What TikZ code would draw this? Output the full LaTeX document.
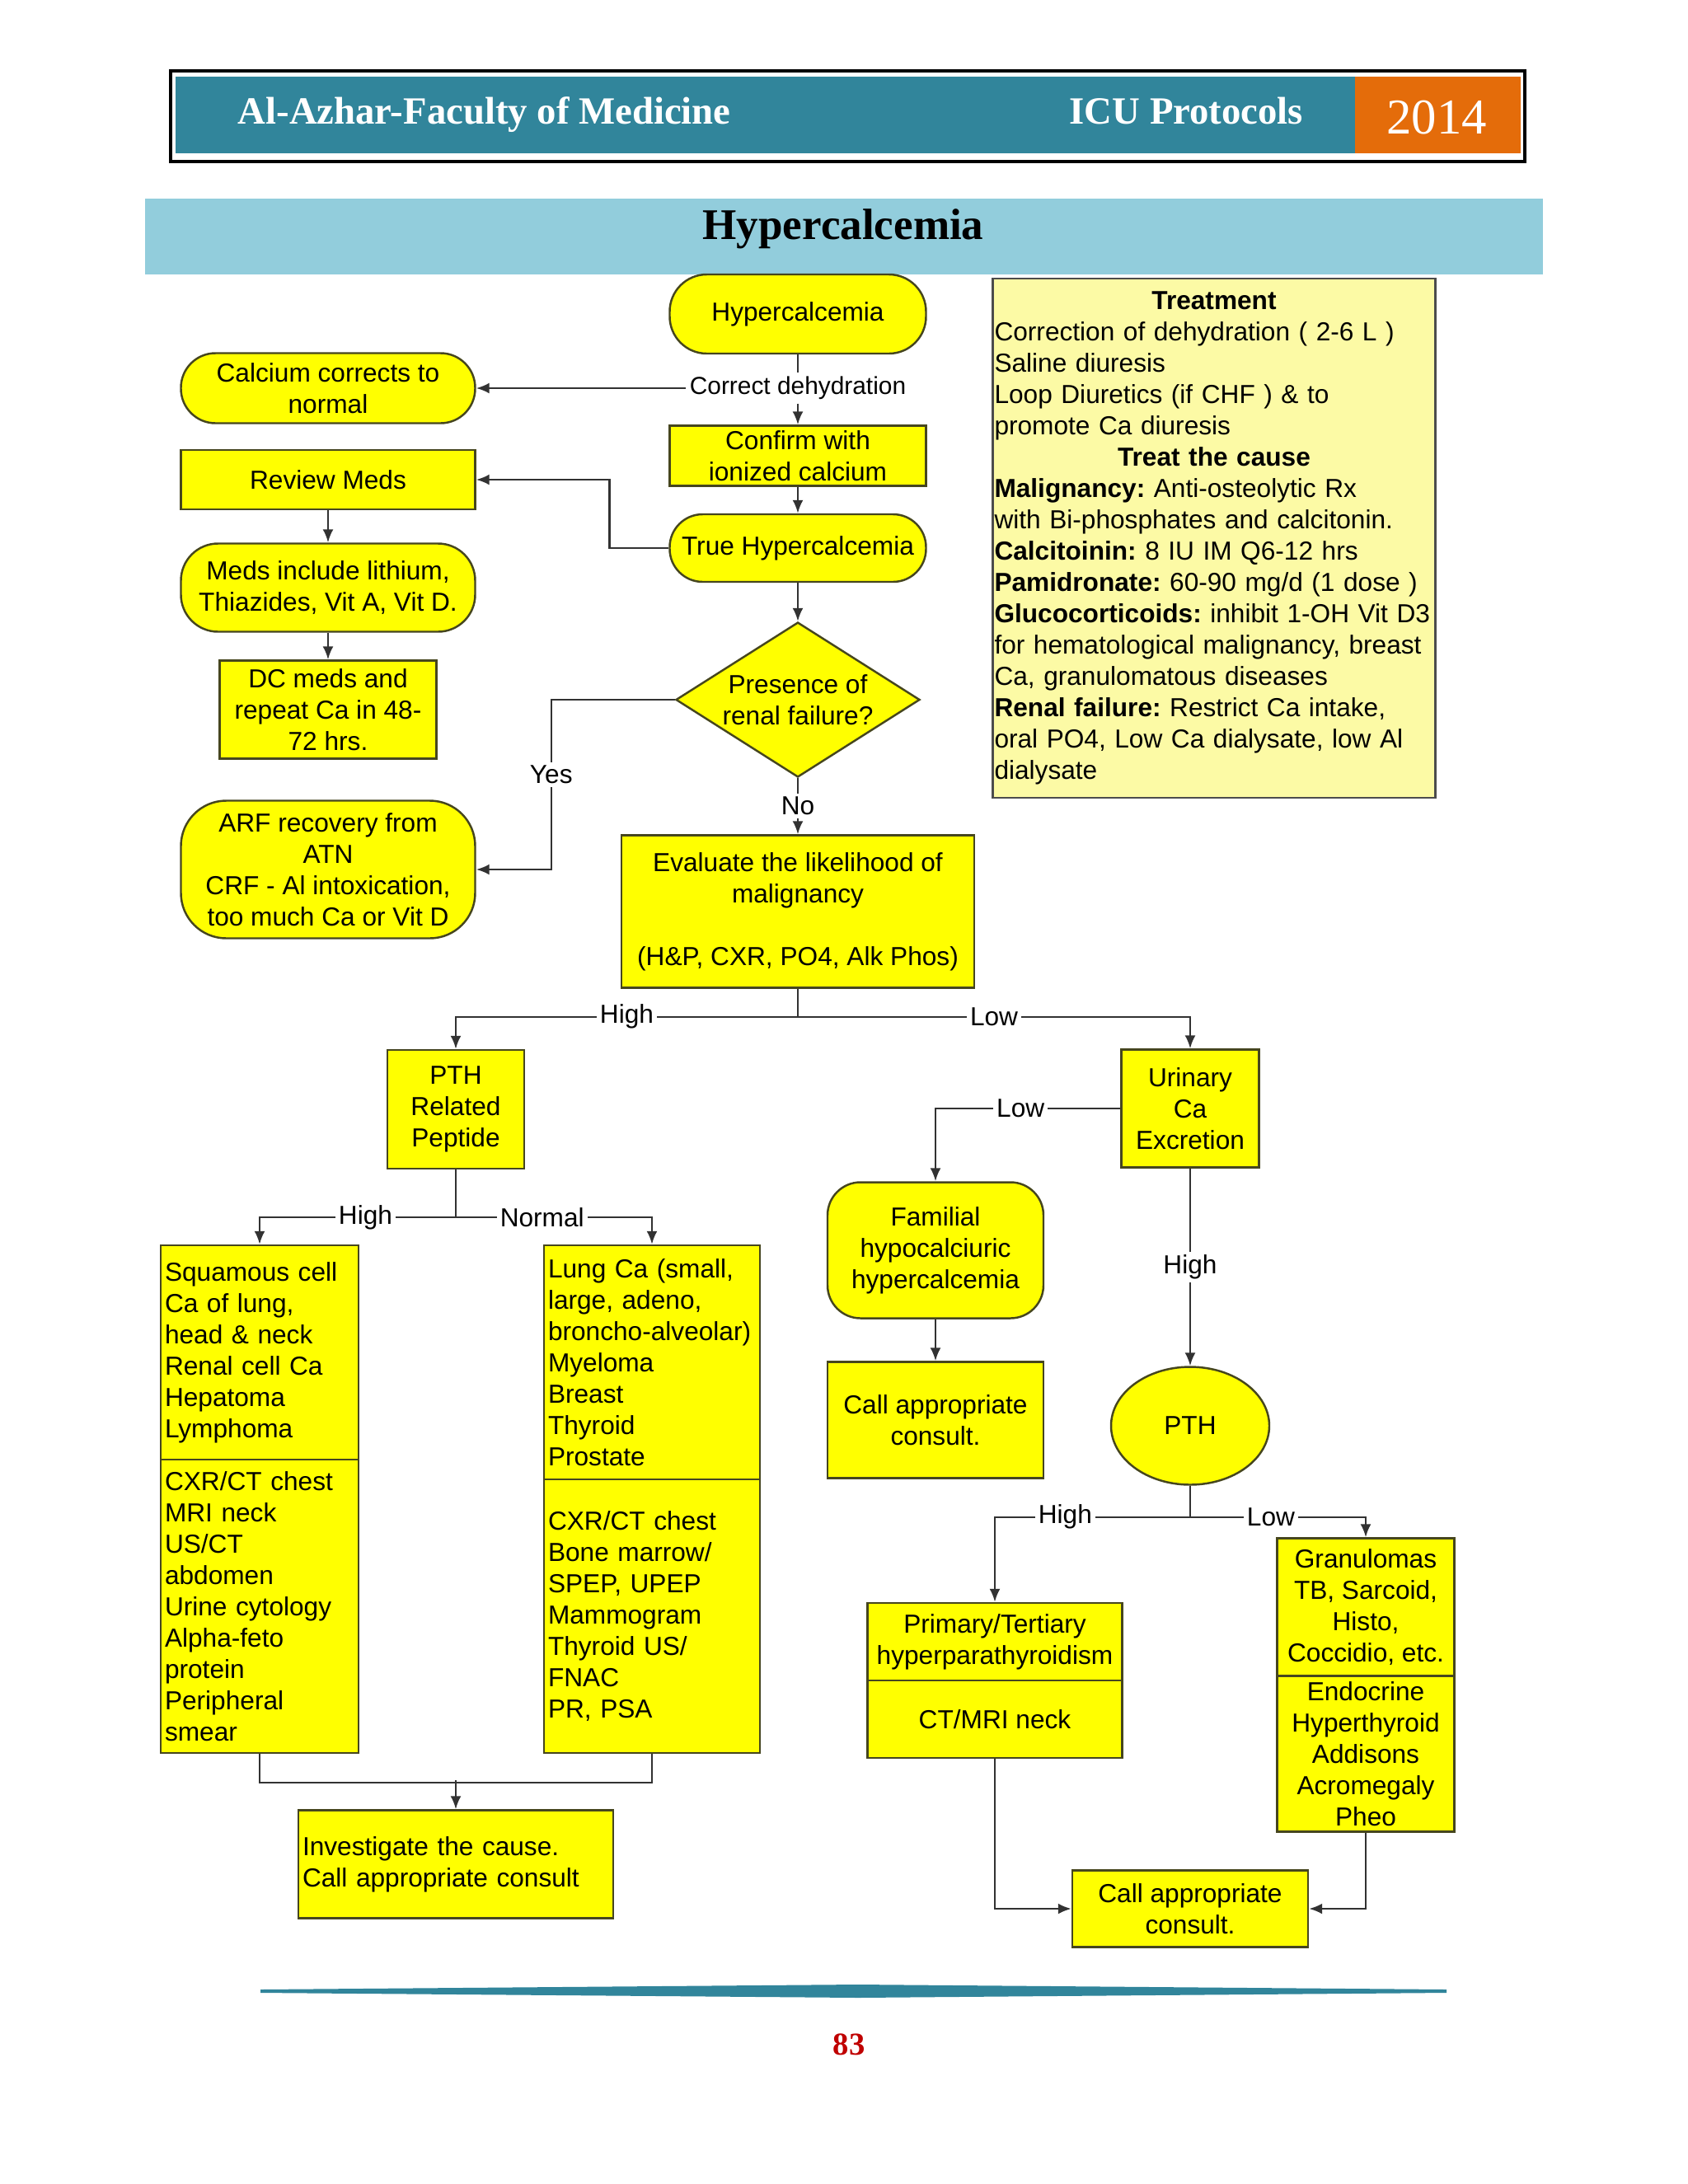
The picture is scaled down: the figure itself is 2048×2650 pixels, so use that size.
\documentclass[tikz,border=0pt]{standalone}
\usepackage{fontspec}
\setmainfont{Liberation Sans}
\newfontfamily\headfont{Liberation Serif}
\usetikzlibrary{arrows.meta,shapes.geometric}
\definecolor{boxyellow}{RGB}{255,255,0}
\definecolor{boxline}{RGB}{70,70,30}
\definecolor{noteyellow}{RGB}{252,250,165}
\definecolor{headteal}{RGB}{49,133,155}
\definecolor{headorange}{RGB}{228,108,10}
\definecolor{bandblue}{RGB}{146,205,220}
\definecolor{pagered}{RGB}{192,0,0}
\definecolor{wirecol}{RGB}{50,50,50}
\frenchspacing
\tikzset{ %font = 9pt Arial metrics
  >={Latex[length=1.6mm,width=1.3mm]},
  {box/.style}={draw=boxline, fill=boxyellow, line width=0.7pt,
                inner sep=0.5mm, align=center,
                font=\fontsize{9}{10.8}\selectfont},
  {round box/.style}={box, rounded corners=#1},
  round box/.default=4mm,
  {list box/.style}={box, align=left, text width=#1},
  {line text/.style}={fill=white, inner sep=0.4mm,
                font=\fontsize{9}{10.8}\selectfont},
  {wire/.style}={draw=wirecol, line width=0.7pt},
}
\begin{document}
\frenchspacing
\begin{tikzpicture}[x=0.1mm,y=-0.1mm]
\useasboundingbox (0,0) rectangle (2048,2650);
\fill[white] (0,0) rectangle (2048,2650);
% page header
\fill[headteal] (213,93) rectangle (1644,186);
\fill[headorange] (1644,93) rectangle (1845,186);
\draw[line width=0.9pt] (207,86) rectangle (1850,196);
\node[text=white, inner sep=0, anchor=base west,
      font=\headfont\fontsize{13.3}{16}\selectfont\bfseries] (school) at (288,150) {Al-Azhar-Faculty of Medicine};
\node[text=white, inner sep=0, anchor=base west,
      font=\headfont\fontsize{13.3}{16}\selectfont\bfseries] (book) at (1297,150) {ICU Protocols};
\node[text=white, inner sep=0, anchor=base,
      font=\headfont\fontsize{17.3}{20}\selectfont] (year) at (1743,162) {2014};
\fill[bandblue] (176,241) rectangle (1872,333);
\node[inner sep=0, anchor=base,
      font=\headfont\fontsize{15.1}{18}\selectfont\bfseries] (title) at (1023,290) {Hypercalcemia};
% main column
\node[round box=4.5mm, minimum width=31.1mm, minimum height=9.6mm] (hyper) at (968,381) {Hypercalcemia};
\node[line text, font=\fontsize{8.5}{10.2}\selectfont] (cordehyd) at (968,471) {Correct dehydration};
\node[box, minimum width=31.1mm, minimum height=7.3mm] (confirm) at (968,553) {Confirm with\\ionized calcium};
\node[round box=4mm, minimum width=31.1mm, minimum height=8.2mm] (truehyp) at (968,665) {True Hypercalcemia};
\node[box, diamond, aspect=1.57, inner sep=0, minimum width=29.6mm, minimum height=18.8mm] (renal) at (968,849) {Presence of\\renal failure?};
\node[box, minimum width=42.8mm, minimum height=18.5mm] (eval) at (968,1106) {Evaluate the likelihood of\\malignancy\\[3.8mm](H\&P, CXR, PO4, Alk Phos)};
% left column
\node[round box=4.2mm, minimum width=35.7mm, minimum height=8.5mm] (calcorr) at (398,471) {Calcium corrects to\\normal};
\node[box, minimum width=35.7mm, minimum height=7.2mm] (review) at (398,582) {Review Meds};
\node[round box=4.5mm, minimum width=35.7mm, minimum height=10.7mm] (medsinc) at (398,713) {Meds include lithium,\\Thiazides, Vit A, Vit D.};
\node[box, minimum width=26.3mm, minimum height=11.9mm] (dcmeds) at (398,861) {DC meds and\\repeat Ca in 48-\\72 hrs.};
\node[round box=5.5mm, minimum width=35.7mm, minimum height=16.7mm] (arf) at (398,1055) {ARF recovery from\\ATN\\CRF - Al intoxication,\\too much Ca or Vit D};
% treatment note
\node[box, fill=noteyellow, draw=black!70, align=left, text width=53.3mm,
      inner xsep=0.2mm, minimum height=63mm] (treat) at (1473,653) {%
\makebox[53.3mm]{\bfseries Treatment}\\
Correction of dehydration ( 2-6 L )\\
Saline diuresis\\
Loop Diuretics (if CHF ) \& to\\
promote Ca diuresis\\
\makebox[53.3mm]{\bfseries Treat the cause}\\
\textbf{Malignancy:} Anti-osteolytic Rx\\
with Bi-phosphates and calcitonin.\\
\textbf{Calcitoinin:} 8 IU IM Q6-12 hrs\\
\textbf{Pamidronate:} 60-90 mg/d (1 dose )\\
\mbox{\textbf{Glucocorticoids:} inhibit 1-OH Vit D3}\\
for hematological malignancy, breast\\
Ca, granulomatous diseases\\
\textbf{Renal failure:} Restrict Ca intake,\\
oral PO4, Low Ca dialysate, low Al\\
dialysate};
% malignancy high
\node[box, minimum width=16.6mm, minimum height=14.4mm] (pthrp) at (553,1346) {PTH\\Related\\Peptide};
\node[list box=23mm, minimum height=26mm] (sqtop) at (315,1641) {Squamous cell\\Ca of lung,\\head \& neck\\Renal cell Ca\\Hepatoma\\Lymphoma};
\node[list box=23mm, minimum height=35.6mm] (sqbot) at (315,1949) {CXR/CT chest\\MRI neck\\US/CT\\abdomen\\Urine cytology\\Alpha-feto\\protein\\Peripheral\\smear};
\node[list box=25.2mm, minimum height=28.4mm] (lungtop) at (791,1653) {Lung Ca (small,\\large, adeno,\\broncho-alveolar)\\Myeloma\\Breast\\Thyroid\\Prostate};
\node[list box=25.2mm, minimum height=33.2mm] (lungbot) at (791,1961) {CXR/CT chest\\Bone marrow/\\SPEP, UPEP\\Mammogram\\Thyroid US/\\FNAC\\PR, PSA};
\node[list box=37.2mm, minimum height=13.1mm] (inv) at (553,2262) {Investigate the cause.\\Call appropriate consult};
% malignancy low
\node[box, minimum width=16.7mm, minimum height=14.3mm] (urin) at (1444,1345) {Urinary\\Ca\\Excretion};
\node[round box=4mm, minimum width=26.2mm, minimum height=16.5mm] (fam) at (1135,1517) {Familial\\hypocalciuric\\hypercalcemia};
\node[box, minimum width=26.2mm, minimum height=14.1mm] (call1) at (1135,1723) {Call appropriate\\consult.};
\node[box, ellipse, minimum width=19.2mm, minimum height=14.3mm] (pth) at (1444,1730) {PTH};
\node[box, minimum width=30.9mm, minimum height=9.4mm] (primtop) at (1207,1992) {Primary/Tertiary\\hyperparathyroidism};
\node[box, minimum width=30.9mm, minimum height=9.4mm] (primbot) at (1207,2086) {CT/MRI neck};
\node[box, minimum width=21.5mm, minimum height=16.7mm] (grantop) at (1657,1950) {Granulomas\\TB, Sarcoid,\\Histo,\\Coccidio, etc.};
\node[box, minimum width=21.5mm, minimum height=18.9mm] (granbot) at (1657,2128) {Endocrine\\Hyperthyroid\\Addisons\\Acromegaly\\Pheo};
\node[box, minimum width=28.6mm, minimum height=9.3mm] (call2) at (1444,2316) {Call appropriate\\consult.};
% connectors
\draw[wire] (hyper) -- (cordehyd);
\draw[wire,->] (cordehyd) -- (confirm);
\draw[wire,->] (cordehyd.west) -- (calcorr.east);
\draw[wire,->] (confirm) -- (truehyp);
\draw[wire,->] (truehyp.west) -- ++(-72,0) |- (review.east);
\draw[wire,->] (review) -- (medsinc);
\draw[wire,->] (medsinc) -- (dcmeds);
\draw[wire,->] (truehyp) -- (renal);
\draw[wire,->] (renal.west) -- ++(-150,0) |- node[line text,pos=.22] {Yes} (arf.east);
\draw[wire,->] (renal) -- node[line text] {No} (eval);
\draw[wire] (eval.south) -- ++(0,34) coordinate (evalfork);
\draw[wire,->] (evalfork) -| node[line text,pos=.25] {High} (pthrp.north);
\draw[wire,->] (evalfork) -| node[line text,pos=.25] {Low} (urin.north);
\draw[wire] (pthrp.south) -- ++(0,58) coordinate (pthrpfork);
\draw[wire,->] (pthrpfork) -| node[line text,pos=.23] {High} (sqtop.north);
\draw[wire,->] (pthrpfork) -| node[line text,pos=.22] {Normal} (lungtop.north);
\draw[wire] (sqbot.south) -- ++(0,35) -| (lungbot.south);
\draw[wire,->] ([yshift=3.5mm]inv.north) -- (inv.north);
\draw[wire,->] (urin.west) -| node[line text,pos=.27] {Low} (fam.north);
\draw[wire,->] (fam) -- (call1);
\draw[wire,->] (urin) -- node[line text] {High} (pth);
\draw[wire] (pth.south) -- ++(0,38) coordinate (pthfork);
\draw[wire,->] (pthfork) -| node[line text,pos=.32] {High} (primtop.north);
\draw[wire,->] (pthfork) -| node[line text,pos=.23] {Low} (grantop.north);
\draw[wire,->] (primbot.south) |- (call2.west);
\draw[wire,->] (granbot.south) |- (call2.east);
% page footer
\fill[headteal] (316,2414) -- (1041,2408) -- (1755,2414) -- (1755,2418)
  -- (1041,2424) -- (316,2418) -- cycle;
\node[text=pagered, inner sep=0, anchor=base,
      font=\headfont\fontsize{11}{13}\selectfont\bfseries] (pagenum) at (1030,2493) {83};
\end{tikzpicture}
\end{document}
